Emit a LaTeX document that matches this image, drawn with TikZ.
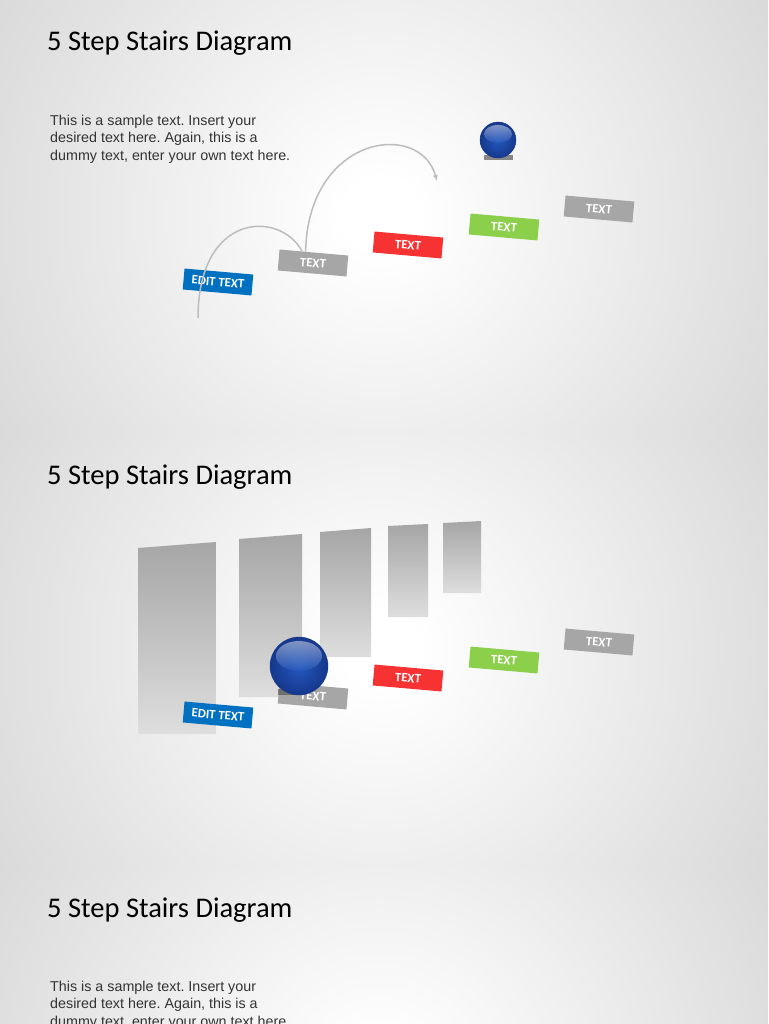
\documentclass[tikz,border=0pt]{standalone}
\usepackage{fontspec}
\setmainfont{Liberation Sans}
\newfontfamily\calibri{Carlito}
\usetikzlibrary{arrows.meta}

\definecolor{tagblue}{HTML}{0070C0}
\definecolor{taggray}{HTML}{A6A6A6}
\definecolor{tagred}{HTML}{F63232}
\definecolor{taggreen}{HTML}{8CCF4B}
\definecolor{ballblue}{RGB}{36,88,190}
\definecolor{balldark}{RGB}{22,56,140}
\definecolor{hopgray}{HTML}{BDBDBD}

\pgfdeclareradialshading{slideglow}{\pgfpoint{0bp}{0bp}}{color(0bp)=(white); color(2bp)=(white); color(25bp)=(black!15); color(50bp)=(black!22)}

\tikzset{
  slidetitle/.style={anchor=base west, inner sep=0pt, font=\calibri\fontsize{28.5}{32}\selectfont},
  bodytext/.style={anchor=north west, inner sep=0pt, align=left, text=black!80,
    font=\fontsize{14.3}{17.3}\selectfont\frenchspacing},
  tagbox/.style={fill=#1, text=white, font=\calibri\bfseries\fontsize{12.8}{12.8}\selectfont,
    minimum width=69pt, minimum height=21pt, inner sep=0pt, rotate=-5},
  stairbar/.style={top color=black!35, bottom color=black!13},
  hopline/.style={draw=hopgray, line width=1.5pt},
  glassball/.style={circle, inner sep=0pt, inner color=ballblue, outer color=balldark, draw=balldark, thin},
  ballshadow/.style={fill=black!65, opacity=0.7}
}

\begin{document}
\begin{tikzpicture}[x=1pt, y=-1pt]
\useasboundingbox (0,0) rectangle (768,1024);

% slide 1
\begin{scope}
\clip (0,0) rectangle (768,433);
\shade[shading=slideglow] (-70,-235) rectangle (830,665);
\end{scope}
\node[slidetitle] (title1) at (47,51) {5 Step Stairs Diagram};
\node[bodytext] (body1) at (50,115) {This is a sample text. Insert your\\desired text here. Again, this is a\\dummy text, enter your own text here.};

\node[tagbox=tagblue] (edit1) at (218,282) {EDIT TEXT};
\node[tagbox=taggray] (gray1) at (313,263) {TEXT};
\node[tagbox=tagred] (red1) at (408,245) {TEXT};
\node[tagbox=taggreen] (green1) at (504,227) {TEXT};
\node[tagbox=taggray] (top1) at (599,209) {TEXT};

\coordinate (jump1) at (198,318);
\coordinate (land1) at (437,181);
\draw[hopline] (jump1) .. controls (198,212) and (280,210) .. (gray1.138);
\draw[hopline, -{Latex[length=6pt,width=5pt]}] (gray1.128) .. controls (308,135) and (420,120) .. (land1);

\fill[ballshadow] (484,155) rectangle (513,160);
\node[glassball, minimum size=36pt] (ball1) at (498,140) {};
\shade[top color=white, bottom color=ballblue, opacity=0.45] (ball1.center) ++(0,-6) ellipse (14 and 9);

% slide 2
\begin{scope}
\clip (0,433) rectangle (768,866);
\shade[shading=slideglow] (-70,198) rectangle (830,1098);
\end{scope}
\node[slidetitle] (title2) at (47,484) {5 Step Stairs Diagram};

\shade[stairbar] (138,548) -- (216,542) -- (216,734) -- (138,734) -- cycle;
\shade[stairbar] (239,539) -- (302,534) -- (302,697) -- (239,697) -- cycle;
\shade[stairbar] (320,532) -- (371,528) -- (371,657) -- (320,657) -- cycle;
\shade[stairbar] (388,526) -- (428,524) -- (428,617) -- (388,617) -- cycle;
\shade[stairbar] (443,523) -- (481,521) -- (481,593) -- (443,593) -- cycle;

\node[tagbox=tagblue] (edit2) at (218,715) {EDIT TEXT};
\node[tagbox=taggray] (gray2) at (313,696) {TEXT};
\node[tagbox=tagred] (red2) at (408,678) {TEXT};
\node[tagbox=taggreen] (green2) at (504,660) {TEXT};
\node[tagbox=taggray] (top2) at (599,642) {TEXT};

\fill[ballshadow] (278,689) rectangle (304,695);
\node[glassball, minimum size=58pt] (ball2) at (299,666) {};
\shade[top color=white, bottom color=ballblue, opacity=0.45] (ball2.center) ++(0,-10) ellipse (23 and 15);

% slide 3
\begin{scope}
\clip (0,866) rectangle (768,1024);
\shade[shading=slideglow] (-70,631) rectangle (830,1531);
\end{scope}
\node[slidetitle] (title3) at (47,917) {5 Step Stairs Diagram};
\node[bodytext] (body3) at (50,981) {This is a sample text. Insert your\\desired text here. Again, this is a\\dummy text, enter your own text here.};
\end{tikzpicture}
\end{document}
